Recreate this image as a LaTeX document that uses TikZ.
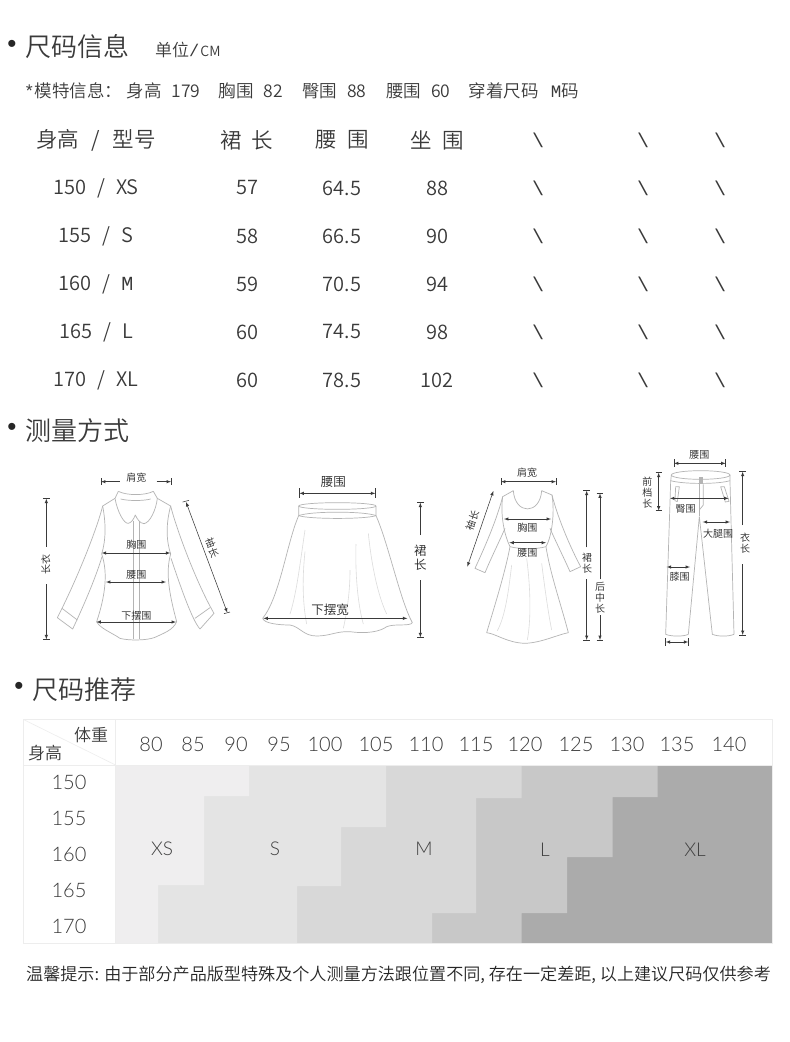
\documentclass[tikz,border=0pt]{standalone}
\usepackage{fontspec}
\usepackage{xcolor}
\setmainfont{Noto Sans CJK SC DemiLight}
\newfontfamily\latinmono{Liberation Mono}
\newfontfamily\latinnum{Lato Light}
\newcommand{\lat}[1]{{\latinmono #1}}
\usetikzlibrary{calc}
\definecolor{inkgray}{HTML}{3A3A3A}
\definecolor{garmentgray}{HTML}{B4B4B4}
\definecolor{foldgray}{HTML}{DCDCDC}
\definecolor{gridgray}{HTML}{EDEDED}
\definecolor{xscolor}{HTML}{EFEEEF}
\definecolor{scolor}{HTML}{E4E4E4}
\definecolor{mcolor}{HTML}{D8D8D8}
\definecolor{lcolor}{HTML}{C8C8C8}
\definecolor{xlcolor}{HTML}{ABABAB}
\tikzset{
    titletext/.style={anchor=west,inner sep=0pt,text=inkgray,font=\fontsize{26}{26}\selectfont},
    dotmark/.style={inner sep=0pt,text=black!85,font=\fontsize{26}{26}\selectfont\latinmono},
    modeltext/.style={anchor=west,inner sep=0pt,text=inkgray,font=\fontsize{17.5}{18}\selectfont},
    headcell/.style={inner sep=0pt,text=inkgray,font=\fontsize{21.5}{21.5}\selectfont},
    sizecell/.style={inner sep=0pt,text=inkgray,font=\fontsize{20}{20}\selectfont},
    rowname/.style={inner sep=0pt,text=inkgray,font=\fontsize{20}{20}\selectfont},
    slashcell/.style={inner sep=0pt,text=inkgray,font=\fontsize{20}{20}\selectfont\latinmono},
    weightcell/.style={inner sep=0pt,text=inkgray,font=\fontsize{20}{20}\selectfont\latinnum},
    bandcell/.style={inner sep=0pt,text=black!75,font=\fontsize{19}{19}\selectfont\latinnum},
    cornercell/.style={inner sep=0pt,text=inkgray,font=\fontsize{17}{17}\selectfont},
    tinylabel/.style={inner sep=0pt,text=black!85,align=center,font=\fontsize{10}{11}\selectfont},
    biglabel/.style={inner sep=0pt,text=black!85,align=center,font=\fontsize{12.5}{14}\selectfont},
    garment/.style={draw=garmentgray,line width=0.7pt,line join=round},
    foldline/.style={draw=foldgray,line width=0.6pt},
    dimline/.style={draw=inkgray,line width=0.55pt},
    dimarrow/.style={draw=inkgray,line width=0.55pt,latex-latex},
    dimend/.style={draw=inkgray,line width=0.55pt,-latex},
}
\begin{document}
\begin{tikzpicture}[x=1pt,y=-1pt]
        \useasboundingbox (0,0) rectangle (790,1042);
        \fill[white] (0,0) rectangle (790,1042);

        \node[dotmark] (bullettop) at (12,46) {•};
        \node[titletext] (titlesize) at (25,47) {尺码信息};
        \node[modeltext,font=\fontsize{17}{17}\selectfont] (unittext) at (155,50) {单位\lat{/}\hspace{1pt}{\fontsize{14}{14}\selectfont CM}};
        \node[modeltext] (modeltext) at (24,91) {\lat{*}模特信息：\hspace{4.5pt}身高\hspace{10pt}179\hspace{18pt}胸围\hspace{10pt}82\hspace{19.6pt}臀围\hspace{10pt}88\hspace{19.6pt}腰围\hspace{10pt}60\hspace{18.6pt}穿着尺码\hspace{12pt}\lat{M}码};

        \node[headcell] (headheight) at (96,140) {身高\hspace{12pt}/\hspace{13pt}型号};
        \node[headcell] (headlength) at (247,140) {裙\hspace{10pt}长};
        \node[headcell] (headwaist) at (342,140) {腰\hspace{10pt}围};
        \node[headcell] (headhip) at (437,140) {坐\hspace{10pt}围};
        \node[slashcell] (heada) at (538,140) {\textbackslash};
        \node[slashcell] (headb) at (643,140) {\textbackslash};
        \node[slashcell] (headc) at (720,140) {\textbackslash};

        \node[rowname] (rowxs) at (96,188) {150\hspace{11pt}/\hspace{11pt}XS};
        \node[sizecell] (xslength) at (247,188) {57};
        \node[sizecell] (xswaist) at (342,188) {64.5};
        \node[sizecell] (xship) at (437,188) {88};
        \node[slashcell] (xsa) at (538,188) {\textbackslash};
        \node[slashcell] (xsb) at (643,188) {\textbackslash};
        \node[slashcell] (xsc) at (720,188) {\textbackslash};

        \node[rowname] (rows) at (96,236) {155\hspace{11pt}/\hspace{11pt}S};
        \node[sizecell] (slength) at (247,236) {58};
        \node[sizecell] (swaist) at (342,236) {66.5};
        \node[sizecell] (ship) at (437,236) {90};
        \node[slashcell] (sa) at (538,236) {\textbackslash};
        \node[slashcell] (sb) at (643,236) {\textbackslash};
        \node[slashcell] (sc) at (720,236) {\textbackslash};

        \node[rowname] (rowm) at (96,284) {160\hspace{11pt}/\hspace{11pt}\lat{M}};
        \node[sizecell] (mlength) at (247,284) {59};
        \node[sizecell] (mwaist) at (342,284) {70.5};
        \node[sizecell] (mhip) at (437,284) {94};
        \node[slashcell] (ma) at (538,284) {\textbackslash};
        \node[slashcell] (mb) at (643,284) {\textbackslash};
        \node[slashcell] (mc) at (720,284) {\textbackslash};

        \node[rowname] (rowl) at (96,332) {165\hspace{11pt}/\hspace{11pt}L};
        \node[sizecell] (llength) at (247,332) {60};
        \node[sizecell] (lwaist) at (342,332) {74.5};
        \node[sizecell] (lhip) at (437,332) {98};
        \node[slashcell] (la) at (538,332) {\textbackslash};
        \node[slashcell] (lb) at (643,332) {\textbackslash};
        \node[slashcell] (lc) at (720,332) {\textbackslash};

        \node[rowname] (rowxl) at (96,380) {170\hspace{11pt}/\hspace{11pt}XL};
        \node[sizecell] (xllength) at (247,380) {60};
        \node[sizecell] (xlwaist) at (342,380) {78.5};
        \node[sizecell] (xlhip) at (437,380) {102};
        \node[slashcell] (xla) at (538,380) {\textbackslash};
        \node[slashcell] (xlb) at (643,380) {\textbackslash};
        \node[slashcell] (xlc) at (720,380) {\textbackslash};

        \node[dotmark] (bulletmid) at (12,429) {•};
        \node[titletext] (titlemeasure) at (25,431) {测量方式};

        \begin{scope}[yshift=-450pt,x=0.33333pt,y=-0.33333pt]
        \draw[garment] (355,124) .. controls (380,137) and (435,137) .. (460,124);
        \draw[garment] (362,147) .. controls (385,153) and (430,153) .. (452,147);
        \draw[garment] (355,124) -- (345,145) .. controls (352,185) and (372,222) .. (385,220) .. controls (395,218) and (402,205) .. (406,195) .. controls (412,208) and (420,220) .. (432,221) .. controls (450,218) and (468,180) .. (472,145) -- (460,124);
        \draw[garment] (345,145) -- (308,168) .. controls (290,240) and (230,390) .. (172,503) -- (218,537) .. controls (245,480) and (285,390) .. (306,320);
        \draw[garment] (472,145) -- (512,168) .. controls (530,240) and (590,400) .. (642,490) -- (600,537) .. controls (575,510) and (535,390) .. (513,325);
        \draw[garment] (186,475) -- (232,510);
        \draw[garment] (630,473) -- (585,505);
        \draw[garment] (308,168) .. controls (318,220) and (318,270) .. (305,312) .. controls (325,370) and (315,440) .. (290,515) .. controls (300,535) and (335,548) .. (360,565) .. controls (385,572) and (440,572) .. (465,562) .. controls (490,550) and (520,540) .. (530,515) .. controls (510,440) and (495,370) .. (512,312) .. controls (498,270) and (498,220) .. (512,168);
        \draw[garment] (400,212) -- (400,568);
        \draw[garment] (418,212) -- (418,568);

        \draw[dimend] (360,95) -- (303,95);
        \draw[dimend] (470,95) -- (513,95);
        \draw[dimline] (303,84) -- (303,105);
        \draw[dimline] (513,84) -- (513,105);
        \node[tinylabel] (shirtshoulder) at (409,82) {肩宽};
        \draw[dimend] (139,290) -- (139,146);
        \draw[dimend] (139,402) -- (139,568);
        \draw[dimline] (129,146) -- (149,146);
        \draw[dimline] (129,568) -- (149,568);
        \node[tinylabel,rotate=90] (shirtlength) at (137,343) {长衣};
        \draw[dimarrow] (558,156) -- (682,488);
        \draw[dimline] (548,156) -- (567,151);
        \draw[dimline] (672,491) -- (690,486);
        \node[tinylabel,rotate=-70] (shirtsleeve) at (636,294) {袖长};
        \node[tinylabel] (shirtchest) at (409,283) {胸围};
        \draw[dimarrow] (305,309) -- (511,309);
        \node[tinylabel] (shirtwaist) at (409,376) {腰围};
        \draw[dimarrow] (318,396) -- (498,396);
        \node[tinylabel] (shirthem) at (409,496) {下摆围};
        \draw[dimarrow] (289,516) -- (528,516);
        \end{scope}

        \begin{scope}[xshift=240pt,yshift=-450pt,x=0.33333pt,y=-0.33333pt]
        \draw[garment] (292,168) ellipse [x radius=116,y radius=10];
        \draw[garment] (176,168) -- (176,197) .. controls (210,183) and (375,183) .. (408,197) -- (408,168);
        \draw[garment] (176,197) .. controls (210,208) and (375,208) .. (408,197);
        \draw[garment] (176,197) .. controls (140,280) and (120,440) .. (68,505) .. controls (72,520) and (115,525) .. (150,525) .. controls (180,530) and (190,558) .. (230,558) .. controls (270,558) and (290,543) .. (330,545) .. controls (380,552) and (420,545) .. (440,530) .. controls (465,520) and (510,530) .. (517,518) .. controls (480,450) and (445,280) .. (408,197);
        \draw[foldline] (195,240) .. controls (180,340) and (170,430) .. (150,492);
        \draw[foldline] (195,305) .. controls (185,400) and (190,470) .. (200,522);
        \draw[foldline] (385,250) .. controls (395,350) and (415,440) .. (440,492);
        \draw[foldline] (348,282) .. controls (345,380) and (355,470) .. (370,522);
        \draw[foldline] (330,360) .. controls (330,430) and (320,490) .. (310,535);

        \node[biglabel] (skirtwaist) at (280,95) {腰围};
        \draw[dimarrow] (178,130) -- (406,130);
        \draw[dimline] (178,115) -- (178,145);
        \draw[dimline] (406,115) -- (406,145);
        \node[biglabel] (skirthem) at (270,478) {下摆宽};
        \draw[dimarrow] (70,505) -- (502,505);
        \draw[dimend] (541,255) -- (541,158);
        \draw[dimend] (541,390) -- (541,562);
        \draw[dimline] (531,158) -- (551,158);
        \draw[dimline] (531,562) -- (551,562);
        \node[biglabel] (skirtlength) at (541,322) {裙\\长};
        \end{scope}

        \begin{scope}[xshift=450pt,yshift=-450pt,x=0.33333pt,y=-0.33333pt]
        \draw[garment] (190,122) .. controls (195,195) and (270,195) .. (275,122);
        \draw[garment] (190,122) -- (158,140) .. controls (140,210) and (105,290) .. (75,355) -- (105,368) .. controls (125,320) and (150,270) .. (165,235);
        \draw[garment] (275,122) -- (306,135) .. controls (325,210) and (365,300) .. (392,350) -- (360,365) .. controls (340,320) and (315,270) .. (300,235);
        \draw[garment] (158,140) .. controls (150,200) and (165,260) .. (180,290) .. controls (165,370) and (130,480) .. (110,548) .. controls (140,552) and (170,578) .. (225,580) .. controls (275,578) and (320,555) .. (355,548) .. controls (335,470) and (300,370) .. (288,290) .. controls (305,260) and (315,190) .. (306,135);
        \draw[garment] (180,290) .. controls (210,298) and (260,298) .. (288,290);
        \draw[foldline] (185,345) .. controls (175,430) and (165,500) .. (142,542);
        \draw[foldline] (230,325) .. controls (240,400) and (245,500) .. (232,570);
        \draw[foldline] (275,340) .. controls (285,420) and (295,490) .. (305,540);

        \node[tinylabel] (dressshoulder) at (231,67) {肩宽};
        \draw[dimarrow] (153,95) -- (318,95);
        \draw[dimline] (153,84) -- (153,105);
        \draw[dimline] (318,84) -- (318,105);
        \draw[dimarrow] (130,123) -- (52,350);
        \node[tinylabel,rotate=70] (dresssleeve) at (67,212) {袖长};
        \node[tinylabel] (dresschest) at (232,234) {胸围};
        \draw[dimarrow] (162,207) -- (303,207);
        \node[tinylabel] (dresswaist) at (232,308) {腰围};
        \draw[dimarrow] (178,278) -- (288,278);
        \draw[dimend] (410,292) -- (410,122);
        \draw[dimend] (410,388) -- (410,570);
        \draw[dimline] (400,122) -- (420,122);
        \draw[dimline] (400,570) -- (420,570);
        \node[tinylabel] (dresslength) at (411,338) {裙\\长};
        \draw[dimend] (450,388) -- (450,130);
        \draw[dimend] (450,495) -- (450,570);
        \draw[dimline] (440,130) -- (460,130);
        \draw[dimline] (440,570) -- (460,570);
        \node[tinylabel] (dressback) at (450,443) {后\\中\\长};
        \end{scope}

        \begin{scope}[xshift=620pt,yshift=-440pt,x=0.33333pt,y=-0.33333pt]
        \draw[garment] (242,105) ellipse [x radius=88,y radius=13];
        \draw[garment] (154,105) -- (152,125) -- (137,583) .. controls (155,590) and (190,590) .. (205,583) -- (238,230) -- (277,583) .. controls (295,590) and (325,590) .. (342,583) -- (330,125) -- (330,105);
        \draw[garment] (152,122) .. controls (190,133) and (295,133) .. (330,122);
        \fill[garmentgray] (238,110) rectangle (250,133);
        \draw[garment] (238,133) -- (238,228);
        \draw[garment] (250,133) -- (250,195) -- (238,210);
        \draw[garment] (165,182) -- (167,140) -- (178,140) -- (172,185) -- cycle;
        \draw[garment] (302,140) -- (313,140) -- (327,184) -- (316,186) -- cycle;

        \node[tinylabel] (pantswaist) at (238,45) {腰围};
        \draw[dimarrow] (162,70) -- (317,70);
        \draw[dimline] (162,58) -- (162,82);
        \draw[dimline] (317,58) -- (317,82);
        \node[tinylabel] (pantsrise) at (82,157) {前\\档\\长};
        \draw[dimarrow] (116,98) -- (116,212);
        \draw[dimline] (107,98) -- (125,98);
        \draw[dimline] (107,212) -- (125,212);
        \node[tinylabel] (pantship) at (197,206) {臀围};
        \draw[dimarrow] (150,175) -- (326,175);
        \node[tinylabel] (pantsthigh) at (294,280) {大腿围};
        \draw[dimarrow] (248,246) -- (330,246);
        \node[tinylabel] (pantsknee) at (179,410) {膝围};
        \draw[dimarrow] (140,381) -- (210,381);
        \draw[dimarrow] (137,606) -- (205,606);
        \draw[dimline] (137,594) -- (137,618);
        \draw[dimline] (205,594) -- (205,618);
        \draw[dimend] (368,255) -- (368,95);
        \draw[dimend] (368,372) -- (368,585);
        \draw[dimline] (358,95) -- (378,95);
        \draw[dimline] (358,585) -- (378,585);
        \node[tinylabel] (pantslength) at (375,310) {衣\\长};
        \end{scope}

        \node[dotmark] (bulletlow) at (19,688) {•};
        \node[titletext] (titlefit) at (32,690) {尺码推荐};

        \fill[xlcolor] (115.5,765) rectangle (772,943.5);
        \fill[lcolor] (115.5,765) -- (657.7,765) -- (657.7,797) -- (612.7,797) -- (612.7,857) -- (567,857) -- (567,913) -- (521.7,913) -- (521.7,943.5) -- (115.5,943.5) -- cycle;
        \fill[mcolor] (115.5,765) -- (521.7,765) -- (521.7,798) -- (476,798) -- (476,913) -- (432,913) -- (432,943.5) -- (115.5,943.5) -- cycle;
        \fill[scolor] (115.5,765) -- (386,765) -- (386,827) -- (341,827) -- (341,886) -- (297,886) -- (297,943.5) -- (115.5,943.5) -- cycle;
        \fill[xscolor] (115.5,765) -- (249,765) -- (249,796) -- (204,796) -- (204,885) -- (158,885) -- (158,943.5) -- (115.5,943.5) -- cycle;
        \draw[gridgray,line width=0.8pt] (23.5,719.5) rectangle (772,943.5);
        \draw[gridgray,line width=0.8pt] (23.5,765) -- (772,765);
        \draw[gridgray,line width=0.8pt] (115.5,719.5) -- (115.5,943.5);
        \draw[gridgray,line width=0.6pt] (23.5,719.5) -- (115.5,765);

        \node[cornercell] (cornerweight) at (91,735) {体重};
        \node[cornercell] (cornerheight) at (45,753) {身高};
        \node[weightcell] (wa) at (151,744) {80};
        \node[weightcell] (wb) at (193,744) {85};
        \node[weightcell] (wc) at (236,744) {90};
        \node[weightcell] (wd) at (279,744) {95};
        \node[weightcell] (we) at (325,744) {100};
        \node[weightcell] (wf) at (376,744) {105};
        \node[weightcell] (wg) at (426,744) {110};
        \node[weightcell] (wh) at (476,744) {115};
        \node[weightcell] (wi) at (525,744) {120};
        \node[weightcell] (wj) at (576,744) {125};
        \node[weightcell] (wk) at (627,744) {130};
        \node[weightcell] (wl) at (677,744) {135};
        \node[weightcell] (wm) at (729,744) {140};
        \node[weightcell] (ha) at (69,782) {150};
        \node[weightcell] (hb) at (69,818) {155};
        \node[weightcell] (hc) at (69,854) {160};
        \node[weightcell] (hd) at (69,890) {165};
        \node[weightcell] (he) at (69,926) {170};
        \node[bandcell] (bandxs) at (162,849) {XS};
        \node[bandcell] (bands) at (275,849) {S};
        \node[bandcell] (bandm) at (424,849) {M};
        \node[bandcell] (bandl) at (545,850) {L};
        \node[bandcell] (bandxl) at (695,850) {XL};

        \node[inner sep=0pt,anchor=west,text=black!85,font=\fontsize{17.1}{17.1}\selectfont] (footnote) at (26,975) {温馨提示: 由于部分产品版型特殊及个人测量方法跟位置不同, 存在一定差距, 以上建议尺码仅供参考};
    \end{tikzpicture}
\end{document}
